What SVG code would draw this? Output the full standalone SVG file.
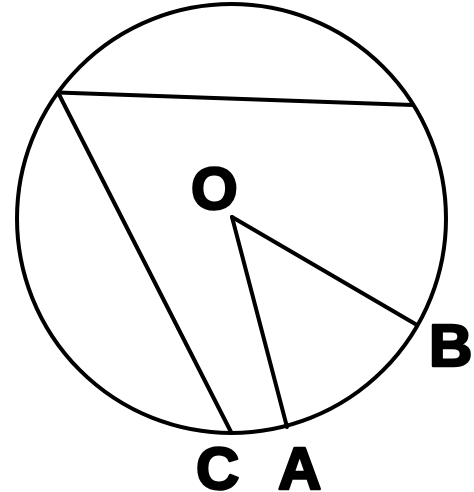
<svg xmlns="http://www.w3.org/2000/svg" width="474" height="492" viewBox="0 0 474 492">
<style>
.ln{stroke:#000;stroke-width:4;fill:none;stroke-linecap:round;stroke-linejoin:round}
.lb{font-family:"Liberation Sans",Arial,sans-serif;font-weight:bold;font-size:60px;fill:#000;stroke:#000;stroke-width:2.5;stroke-linejoin:round}
</style>
<rect width="474" height="492" fill="#fff"/>
<g id="circle"><circle class="ln" cx="231.5" cy="218.5" r="214.5"/></g>
<g id="connectors">
<line class="ln" x1="58" y1="92.5" x2="413" y2="105"/>
<line class="ln" x1="58" y1="92.5" x2="231" y2="432"/>
<line class="ln" x1="232" y1="217" x2="287" y2="427"/>
<line class="ln" x1="232" y1="217" x2="417" y2="325"/>
</g>
<g id="O"><text class="lb" x="191" y="209">O</text></g>
<g id="C"><text class="lb" x="196" y="489">C</text></g>
<g id="A"><text class="lb" x="278" y="489">A</text></g>
<g id="B"><text class="lb" x="429" y="366">B</text></g>
</svg>
